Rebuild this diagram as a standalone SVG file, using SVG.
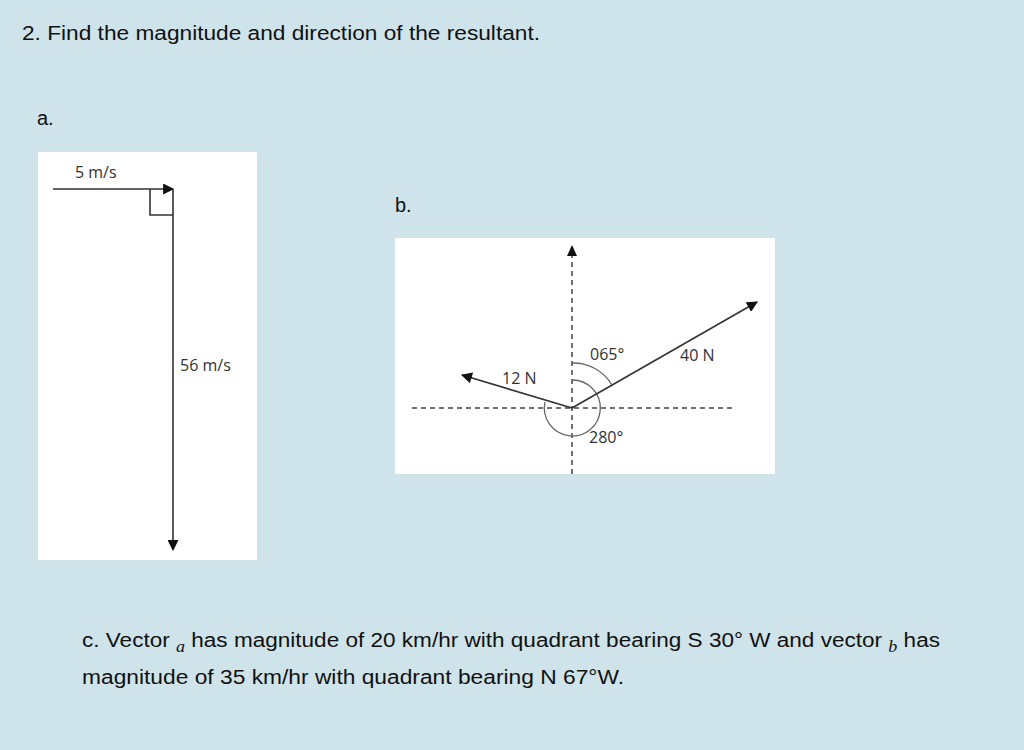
<svg xmlns="http://www.w3.org/2000/svg" width="1024" height="750" viewBox="0 0 1024 750">
<style>
.t{font-family:"Liberation Sans",Arial,sans-serif;font-size:20px;fill:#111}
.c{font-family:"Open Sans","DejaVu Sans",sans-serif;font-size:16px;fill:#333}
.l{stroke:#333;stroke-width:1.6;fill:none}
.d{stroke:#444;stroke-width:1.5;stroke-dasharray:5,4;fill:none}
.a{stroke:#666;stroke-width:1.3;fill:none}
</style>
<defs><marker id="ar2" viewBox="0 0 10 10" refX="9" refY="5" markerWidth="12" markerHeight="11" markerUnits="userSpaceOnUse" orient="auto"><path d="M0,0L10,5L0,10z" fill="#111"/></marker></defs>
<rect width="1024" height="750" fill="#cfe3ea"/>
<text class="t" x="22" y="40" textLength="518" lengthAdjust="spacingAndGlyphs">2. Find the magnitude and direction of the resultant.</text>
<text class="t" x="37" y="125">a.</text>
<g id="diagramA">
<rect x="38" y="152" width="219" height="408" fill="#fff"/>
<text class="c" x="75" y="178">5 m/s</text>
<path class="l" d="M53,189H173" marker-end="url(#ar2)"/>
<path class="l" d="M150,189V215H173"/>
<path class="l" d="M173,189V550" marker-end="url(#ar2)"/>
<text class="c" x="180" y="371">56 m/s</text>
</g>
<text class="t" x="395" y="212">b.</text>
<g id="diagramB">
<rect x="395" y="238" width="380" height="236" fill="#fff"/>
<path class="d" d="M572,474V252"/>
<path d="M567,256L572,245L577,256z" fill="#111"/>
<path class="d" d="M412,408H735"/>
<path class="a" d="M572,363A45,45 0 0 1 612,385"/>
<path class="a" d="M572,380A28,28 0 1 1 545,402"/>
<path class="l" d="M572,408L757,302" marker-end="url(#ar2)"/>
<path class="l" d="M572,408L462,375" marker-end="url(#ar2)"/>
<text class="c" x="590" y="360">065°</text>
<text class="c" x="680" y="361">40 N</text>
<text class="c" x="502" y="384">12 N</text>
<text class="c" x="589" y="443">280°</text>
</g>
<text class="t" x="82" y="647" textLength="858" lengthAdjust="spacingAndGlyphs">c. Vector <tspan font-family="Liberation Serif" font-style="italic" font-size="16" dy="5">a</tspan><tspan dy="-5"> has magnitude of 20 km/hr with quadrant bearing S 30° W and vector </tspan><tspan font-family="Liberation Serif" font-style="italic" font-size="16" dy="5">b</tspan><tspan dy="-5"> has</tspan></text>
<text class="t" x="82" y="684" textLength="542" lengthAdjust="spacingAndGlyphs">magnitude of 35 km/hr with quadrant bearing N 67°W.</text>
</svg>
